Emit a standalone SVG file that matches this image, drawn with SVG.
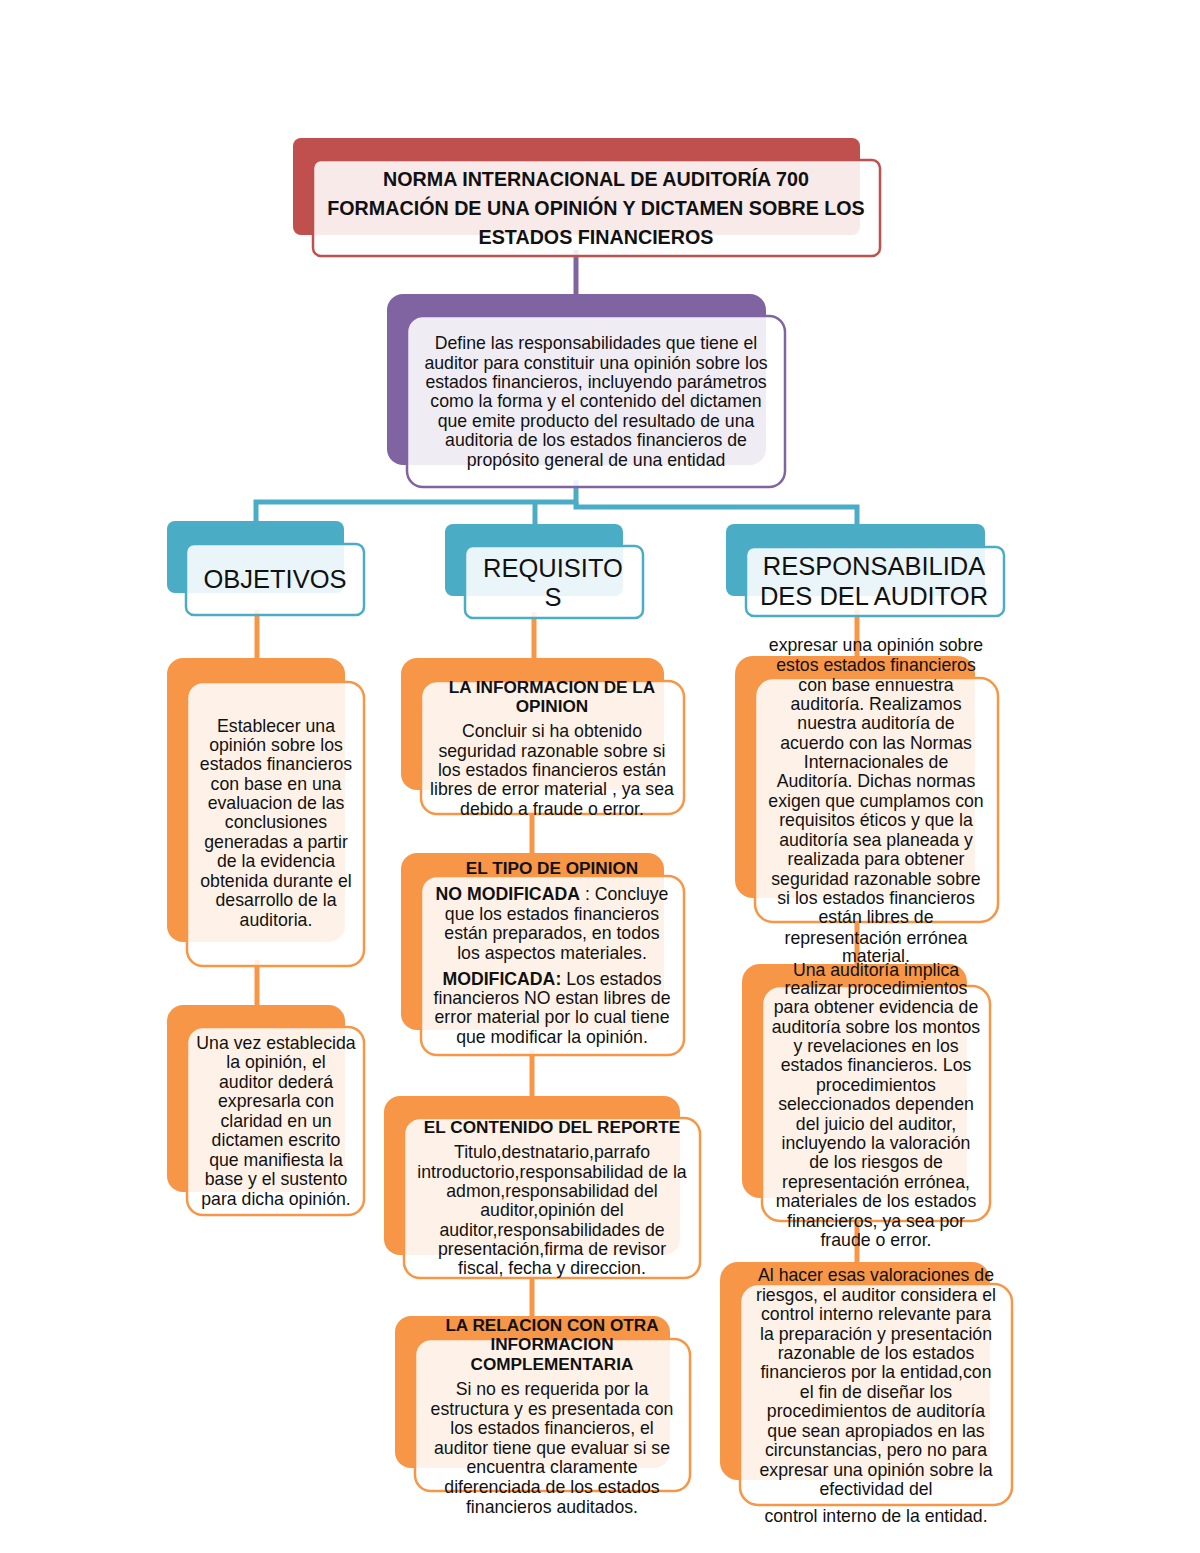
<svg xmlns="http://www.w3.org/2000/svg" width="1200" height="1553" viewBox="0 0 1200 1553">
<style>
.bg{fill:#ffffff}
.fr{fill:#ffffff;fill-opacity:0.88;stroke-width:2.5}
.red{fill:#c0504d}
.pur{fill:#8064a2}
.blu{fill:#4bacc6}
.ora{fill:#f79646}
.sred{stroke:#c0504d}
.spur{stroke:#8064a2}
.sblu{stroke:#4bacc6}
.sora{stroke:#f79646}
text{font-family:"Liberation Sans",Arial,sans-serif;fill:#111;text-anchor:middle}
.t{font-size:19.7px;font-weight:bold}
.b{font-size:17.7px}
.h{font-size:25.5px}
.hb{font-size:17.2px;font-weight:bold}
.c{fill:none;stroke-width:5}
</style>
<rect class="bg" x="0" y="0" width="1200" height="1553"/>
<g id="connectors">
  <line class="c" stroke="#8064a2" x1="576" y1="250" x2="576" y2="300"/>
  <polyline class="c" stroke="#4bacc6" points="576,480 576,502 256,502 256,528"/>
  <polyline class="c" stroke="#4bacc6" points="535,502 535,530"/>
  <polyline class="c" stroke="#4bacc6" points="576,502 576,507 857,507 857,530"/>
  <line class="c" stroke="#f79646" x1="257" y1="610" x2="257" y2="665"/>
  <line class="c" stroke="#f79646" x1="257" y1="960" x2="257" y2="1010"/>
  <line class="c" stroke="#f79646" x1="534" y1="612" x2="534" y2="665"/>
  <line class="c" stroke="#f79646" x1="532" y1="808" x2="532" y2="860"/>
  <line class="c" stroke="#f79646" x1="532" y1="1050" x2="532" y2="1102"/>
  <line class="c" stroke="#f79646" x1="532" y1="1272" x2="532" y2="1322"/>
  <line class="c" stroke="#f79646" x1="857" y1="610" x2="857" y2="665"/>
  <line class="c" stroke="#f79646" x1="857" y1="915" x2="857" y2="970"/>
  <line class="c" stroke="#f79646" x1="857" y1="1215" x2="857" y2="1268"/>
</g>
<g id="title">
  <rect class="red" x="293" y="138" width="567" height="97" rx="8"/>
  <rect class="fr sred" x="313" y="160" width="567" height="96" rx="8"/>
  <text class="t" x="596" y="186">NORMA INTERNACIONAL DE AUDITORÍA 700</text>
  <text class="t" x="596" y="215">FORMACIÓN DE UNA OPINIÓN Y DICTAMEN SOBRE LOS</text>
  <text class="t" x="596" y="244">ESTADOS FINANCIEROS</text>
</g>
<g id="definicion">
  <rect class="pur" x="387" y="294" width="379" height="171" rx="16"/>
  <rect class="fr spur" x="407" y="316" width="378" height="171" rx="16"/>
  <text class="b" x="596" y="349">Define las responsabilidades que tiene el</text>
  <text class="b" x="596" y="369">auditor para constituir una opinión sobre los</text>
  <text class="b" x="596" y="388">estados financieros, incluyendo parámetros</text>
  <text class="b" x="596" y="407">como la forma y el contenido del dictamen</text>
  <text class="b" x="596" y="427">que emite producto del resultado de una</text>
  <text class="b" x="596" y="446">auditoria de los estados financieros de</text>
  <text class="b" x="596" y="466">propósito general de una entidad</text>
</g>
<g id="objetivos">
  <rect class="blu" x="167" y="521" width="177" height="72" rx="8"/>
  <rect class="fr sblu" x="186" y="544" width="178" height="71" rx="8"/>
  <text class="h" x="275" y="588">OBJETIVOS</text>
</g>
<g id="requisitos">
  <rect class="blu" x="445" y="524" width="178" height="72" rx="8"/>
  <rect class="fr sblu" x="465" y="546" width="178" height="72" rx="8"/>
  <text class="h" x="553" y="577">REQUISITO</text>
  <text class="h" x="553" y="606">S</text>
</g>
<g id="responsabilidades">
  <rect class="blu" x="726" y="524" width="259" height="72" rx="8"/>
  <rect class="fr sblu" x="746" y="547" width="258" height="69" rx="8"/>
  <text class="h" x="874" y="575">RESPONSABILIDA</text>
  <text class="h" x="874" y="605">DES DEL AUDITOR</text>
</g>
<g id="obj1">
  <rect class="ora" x="167" y="658" width="178" height="284" rx="16"/>
  <rect class="fr sora" x="187" y="682" width="177" height="284" rx="16"/>
  <text class="b" x="276" y="732">Establecer una</text>
  <text class="b" x="276" y="751">opinión sobre los</text>
  <text class="b" x="276" y="770">estados financieros</text>
  <text class="b" x="276" y="790">con base en una</text>
  <text class="b" x="276" y="809">evaluacion de las</text>
  <text class="b" x="276" y="828">conclusiones</text>
  <text class="b" x="276" y="848">generadas a partir</text>
  <text class="b" x="276" y="867">de la evidencia</text>
  <text class="b" x="276" y="887">obtenida durante el</text>
  <text class="b" x="276" y="906">desarrollo de la</text>
  <text class="b" x="276" y="926">auditoria.</text>
</g>
<g id="obj2">
  <rect class="ora" x="167" y="1005" width="178" height="187" rx="16"/>
  <rect class="fr sora" x="187" y="1027" width="177" height="188" rx="16"/>
  <text class="b" x="276" y="1049">Una vez establecida</text>
  <text class="b" x="276" y="1068">la opinión, el</text>
  <text class="b" x="276" y="1088">auditor dederá</text>
  <text class="b" x="276" y="1107">expresarla con</text>
  <text class="b" x="276" y="1127">claridad en un</text>
  <text class="b" x="276" y="1146">dictamen escrito</text>
  <text class="b" x="276" y="1166">que manifiesta la</text>
  <text class="b" x="276" y="1185">base y el sustento</text>
  <text class="b" x="276" y="1205">para dicha opinión.</text>
</g>
<g id="req1">
  <rect class="ora" x="401" y="658" width="263" height="132" rx="16"/>
  <rect class="fr sora" x="421" y="681" width="263" height="133" rx="16"/>
  <text class="hb" x="552" y="693">LA INFORMACION DE LA</text>
  <text class="hb" x="552" y="712">OPINION</text>
  <text class="b" x="552" y="737">Concluir si ha obtenido</text>
  <text class="b" x="552" y="757">seguridad razonable sobre si</text>
  <text class="b" x="552" y="776">los estados financieros están</text>
  <text class="b" x="552" y="795">libres de error material , ya sea</text>
  <text class="b" x="552" y="815">debido a fraude o error.</text>
</g>
<g id="req2">
  <rect class="ora" x="401" y="853" width="263" height="177" rx="16"/>
  <rect class="fr sora" x="421" y="876" width="263" height="179" rx="16"/>
  <text class="hb" x="552" y="874">EL TIPO DE OPINION</text>
  <text class="b" x="552" y="900"><tspan font-weight="bold">NO MODIFICADA</tspan> : Concluye</text>
  <text class="b" x="552" y="920">que los estados financieros</text>
  <text class="b" x="552" y="939">están preparados, en todos</text>
  <text class="b" x="552" y="959">los aspectos  materiales.</text>
  <text class="b" x="552" y="985"><tspan font-weight="bold">MODIFICADA:</tspan> Los estados</text>
  <text class="b" x="552" y="1004">financieros  NO estan libres de</text>
  <text class="b" x="552" y="1023">error material por lo cual tiene</text>
  <text class="b" x="552" y="1043">que modificar la opinión.</text>
</g>
<g id="req3">
  <rect class="ora" x="384" y="1096" width="296" height="159" rx="16"/>
  <rect class="fr sora" x="404" y="1118" width="296" height="160" rx="16"/>
  <text class="hb" x="552" y="1133">EL CONTENIDO DEL REPORTE</text>
  <text class="b" x="552" y="1158">Titulo,destnatario,parrafo</text>
  <text class="b" x="552" y="1178">introductorio,responsabilidad de la</text>
  <text class="b" x="552" y="1197">admon,responsabilidad del</text>
  <text class="b" x="552" y="1216">auditor,opinión del</text>
  <text class="b" x="552" y="1236">auditor,responsabilidades de</text>
  <text class="b" x="552" y="1255">presentación,firma de revisor</text>
  <text class="b" x="552" y="1274">fiscal, fecha y direccion.</text>
</g>
<g id="req4">
  <rect class="ora" x="395" y="1316" width="275" height="152" rx="16"/>
  <rect class="fr sora" x="415" y="1339" width="275" height="152" rx="16"/>
  <text class="hb" x="552" y="1331">LA RELACION  CON  OTRA</text>
  <text class="hb" x="552" y="1350">INFORMACION</text>
  <text class="hb" x="552" y="1370">COMPLEMENTARIA</text>
  <text class="b" x="552" y="1395">Si no es requerida por la</text>
  <text class="b" x="552" y="1415">estructura y es presentada con</text>
  <text class="b" x="552" y="1434">los estados financieros, el</text>
  <text class="b" x="552" y="1454">auditor tiene que evaluar si se</text>
  <text class="b" x="552" y="1473">encuentra claramente</text>
  <text class="b" x="552" y="1493">diferenciada de los estados</text>
  <text class="b" x="552" y="1513">financieros  auditados.</text>
</g>
<g id="resp1">
  <rect class="ora" x="735" y="656" width="240" height="242" rx="18"/>
  <rect class="fr sora" x="755" y="678" width="243" height="244" rx="18"/>
  <text class="b" x="876" y="651">expresar una opinión sobre</text>
  <text class="b" x="876" y="671">estos estados financieros</text>
  <text class="b" x="876" y="691">con base ennuestra</text>
  <text class="b" x="876" y="710">auditoría. Realizamos</text>
  <text class="b" x="876" y="729">nuestra auditoría de</text>
  <text class="b" x="876" y="749">acuerdo con las Normas</text>
  <text class="b" x="876" y="768">Internacionales de</text>
  <text class="b" x="876" y="787">Auditoría. Dichas normas</text>
  <text class="b" x="876" y="807">exigen que cumplamos con</text>
  <text class="b" x="876" y="826">requisitos éticos y  que la</text>
  <text class="b" x="876" y="846">auditoría sea planeada y</text>
  <text class="b" x="876" y="865">realizada para obtener</text>
  <text class="b" x="876" y="885">seguridad razonable sobre</text>
  <text class="b" x="876" y="904">si los estados financieros</text>
  <text class="b" x="876" y="923">están libres de</text>
  <text class="b" x="876" y="944">representación errónea</text>
  <text class="b" x="876" y="962">material.</text>
</g>
<g id="resp2">
  <rect class="ora" x="742" y="964" width="225" height="234" rx="18"/>
  <rect class="fr sora" x="762" y="986" width="228" height="235" rx="18"/>
  <text class="b" x="876" y="976">Una auditoría implica</text>
  <text class="b" x="876" y="994">realizar procedimientos</text>
  <text class="b" x="876" y="1013">para obtener evidencia de</text>
  <text class="b" x="876" y="1033">auditoría sobre los montos</text>
  <text class="b" x="876" y="1052">y revelaciones en los</text>
  <text class="b" x="876" y="1071">estados financieros. Los</text>
  <text class="b" x="876" y="1091">procedimientos</text>
  <text class="b" x="876" y="1110">seleccionados dependen</text>
  <text class="b" x="876" y="1130">del  juicio del auditor,</text>
  <text class="b" x="876" y="1149">incluyendo la valoración</text>
  <text class="b" x="876" y="1168">de los riesgos de</text>
  <text class="b" x="876" y="1188">representación errónea,</text>
  <text class="b" x="876" y="1207">materiales de los estados</text>
  <text class="b" x="876" y="1227">financieros, ya sea por</text>
  <text class="b" x="876" y="1246">fraude o error.</text>
</g>
<g id="resp3">
  <rect class="ora" x="720" y="1262" width="270" height="218" rx="18"/>
  <rect class="fr sora" x="740" y="1284" width="272" height="221" rx="18"/>
  <text class="b" x="876" y="1281">Al hacer esas valoraciones de</text>
  <text class="b" x="876" y="1301">riesgos, el auditor considera el</text>
  <text class="b" x="876" y="1320">control interno relevante para</text>
  <text class="b" x="876" y="1340">la preparación y presentación</text>
  <text class="b" x="876" y="1359">razonable de los estados</text>
  <text class="b" x="876" y="1378">financieros por la entidad,con</text>
  <text class="b" x="876" y="1398">el fin de diseñar los</text>
  <text class="b" x="876" y="1417">procedimientos de auditoría</text>
  <text class="b" x="876" y="1437">que sean apropiados en las</text>
  <text class="b" x="876" y="1456">circunstancias, pero no para</text>
  <text class="b" x="876" y="1476">expresar una opinión sobre la</text>
  <text class="b" x="876" y="1495">efectividad del</text>
  <text class="b" x="876" y="1522">control interno de la entidad.</text>
</g>
</svg>
